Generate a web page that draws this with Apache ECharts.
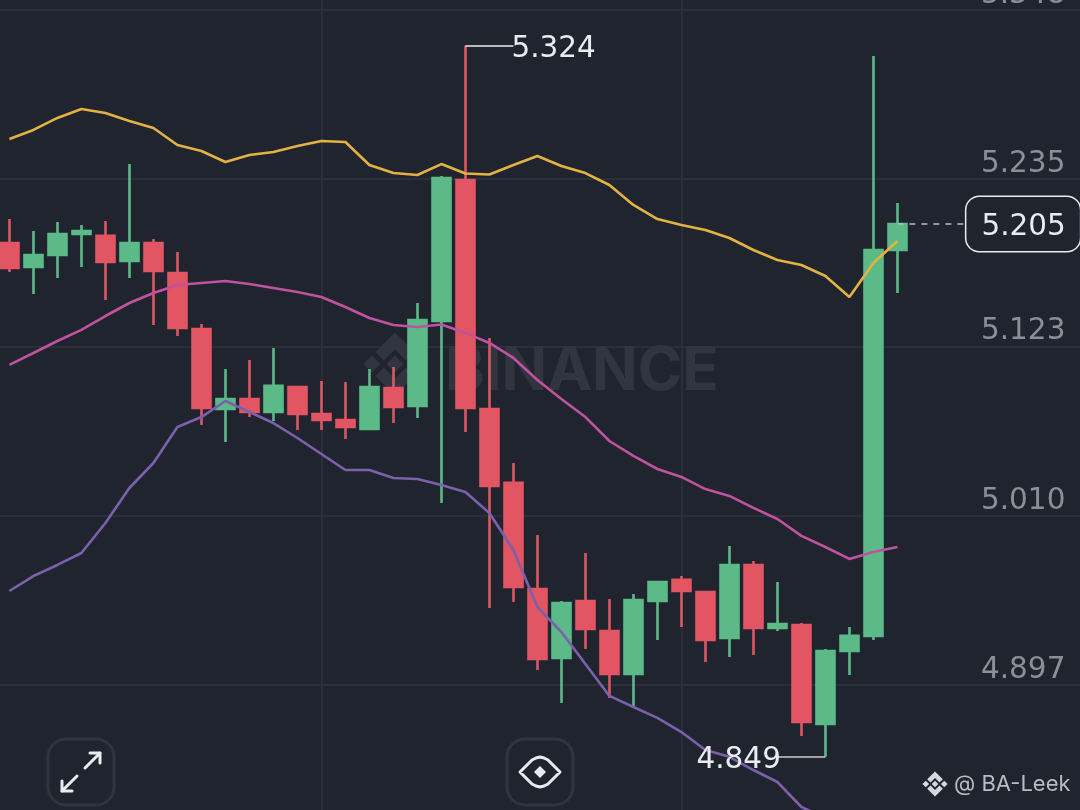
<!DOCTYPE html>
<html>
<head>
<meta charset="utf-8">
<style>html,body{margin:0;padding:0;background:#20242e}#c{width:1080px;height:810px}</style>
<script src="https://cdn.jsdelivr.net/npm/echarts@6/dist/echarts.min.js"></script>
</head>
<body>
<div id="c"></div>
<script>
const opens  = [5.1923,5.1762,5.1843,5.1983,5.1970,5.1803,5.1923,5.1722,5.1348,5.0814,5.0881,5.0794,5.0961,5.0780,5.0740,5.0680,5.0954,5.0834,5.1402,5.2344,5.0814,5.0320,4.9611,4.9151,4.9531,4.9331,4.9044,4.9531,4.9672,4.9591,4.9284,4.9772,4.9351,4.9371,4.8710,4.9197,4.9298,5.1876];
const closes = [5.1756,5.1843,5.1983,5.2003,5.1796,5.1923,5.1736,5.1355,5.0821,5.0881,5.0794,5.0968,5.0780,5.0740,5.0694,5.0961,5.0827,5.1408,5.2357,5.0821,5.0300,4.9625,4.9144,4.9518,4.9344,4.9044,4.9538,4.9658,4.9598,4.9271,4.9772,4.9351,4.9378,4.8723,4.9197,4.9298,5.1876,5.2050];
const lows   = [5.1729,5.1582,5.1689,5.1762,5.1542,5.1689,5.1375,5.1302,5.0707,5.0593,5.0760,5.0734,5.0674,5.0674,5.0613,5.0680,5.0720,5.0754,5.0186,5.0660,4.9485,4.9525,4.9070,4.8850,4.9211,4.8883,4.8830,4.9271,4.9358,4.9124,4.9157,4.9171,4.9331,4.8630,4.8490,4.9037,4.9271,5.1589];
const highs  = [5.2083,5.2003,5.2063,5.2043,5.2070,5.2450,5.1949,5.1863,5.1382,5.1081,5.1141,5.1221,5.0968,5.1001,5.0994,5.1081,5.1094,5.1522,5.2370,5.3240,5.1288,5.0453,4.9972,4.9531,4.9852,4.9545,4.9578,4.9658,4.9698,4.9591,4.9899,4.9799,4.9658,4.9384,4.9211,4.9358,5.3172,5.2190];
const bandUpper = [5.2617,5.2678,5.2758,5.2818,5.2791,5.2738,5.2691,5.2577,5.2537,5.2464,5.2511,5.2531,5.2571,5.2604,5.2597,5.2444,5.2390,5.2377,5.2450,5.2387,5.2380,5.2444,5.2504,5.2437,5.2390,5.2310,5.2177,5.2083,5.2043,5.2010,5.1956,5.1876,5.1809,5.1776,5.1702,5.1562,5.1789,5.1936];
const bandMid   = [5.1108,5.1188,5.1268,5.1342,5.1435,5.1522,5.1589,5.1642,5.1656,5.1669,5.1649,5.1622,5.1595,5.1562,5.1495,5.1422,5.1375,5.1362,5.1378,5.1322,5.1255,5.1155,5.1008,5.0881,5.0760,5.0600,5.0500,5.0413,5.0360,5.0279,5.0233,5.0153,5.0079,4.9966,4.9892,4.9812,4.9859,4.9892];
const bandLower = [4.9598,4.9698,4.9772,4.9852,5.0052,5.0286,5.0453,5.0694,5.0760,5.0867,5.0794,5.0720,5.0620,5.0513,5.0406,5.0406,5.0353,5.0346,5.0306,5.0259,5.0119,4.9872,4.9491,4.9324,4.9110,4.8897,4.8823,4.8750,4.8656,4.8536,4.8490,4.8402,4.8322,4.8155,4.8082,4.8062,4.7928,4.7848];
const priceTicks = [4.897,5.010,5.123,5.235,5.348];
const verticalGridAt = [13,28];
const highValue = 5.324, lowValue = 4.849, lastPrice = 5.205;
const highIndex = 19, lowIndex = 34, lastIndex = 37;
const categories = Array.from({length:46},(_,i)=>String(i));

const BG='#20242e', GRID='#2f333e', GREEN='#5cba89', RED='#e25563', TXT='#eaecef';
const LOGO_PARTS=[
  [[50,5],[78,33],[66,45],[50,29],[34,45],[22,33]],
  [[50,95],[78,67],[66,55],[50,71],[34,55],[22,67]],
  [[5,50],[17,38],[29,50],[17,62]],
  [[95,50],[83,38],[71,50],[83,62]],
  [[50,38],[62,50],[50,62],[38,50]]
];
const logo=(x,y,s,fill,z)=>LOGO_PARTS.map(p=>({type:'polygon',z,silent:true,x,y,scaleX:s,scaleY:s,shape:{points:p},style:{fill}}));
const chromeStroke={stroke:TXT,fill:'none',lineWidth:3,lineCap:'round',lineJoin:'round'};
const FONT='Inter', NUMFONT='DejaVu Sans', NUMSIZE=29.5;

const chart=echarts.init(document.getElementById('c'),null,{renderer:'canvas'});
const lineSeries=(name,data,color)=>({name,type:'line',data,symbol:'none',smooth:false,z:5,
  lineStyle:{color,width:2.6},silent:true,animation:false});
chart.setOption({
  animation:false,
  backgroundColor:BG,
  grid:{left:-2.6,top:0,width:1104,height:810,containLabel:false,outerBoundsMode:'none'},
  xAxis:{type:'category',data:categories,boundaryGap:true,
    axisLine:{show:false},axisTick:{show:false},axisLabel:{show:false},
    splitLine:{show:true,alignWithLabel:true,interval:(i)=>verticalGridAt.includes(i),lineStyle:{color:GRID,width:1.5}}},
  yAxis:{type:'value',position:'right',min:4.8135,max:5.3546,scale:true,
    axisLine:{show:false},axisTick:{show:false,customValues:priceTicks},
    splitLine:{show:true,lineStyle:{color:GRID,width:1.5}},
    axisLabel:{inside:true,margin:36,customValues:priceTicks,showMinLabel:true,showMaxLabel:true,
      formatter:(v)=>v.toFixed(3),color:'#8b8f97',fontFamily:NUMFONT,fontSize:NUMSIZE,verticalAlign:'bottom',lineHeight:30,align:'right'}},
  series:[
    {type:'candlestick',data:opens.map((o,i)=>[o,closes[i],lows[i],highs[i]]),barWidth:18.5,z:2,
      itemStyle:{color:GREEN,color0:RED,borderColor:GREEN,borderColor0:RED,borderWidth:2.6},
      markLine:{silent:true,symbol:'none',z:10,animation:false,data:[
        [{coord:[highIndex,highValue],lineStyle:{color:TXT,width:1.5,type:'solid'},
          label:{show:true,position:'end',formatter:highValue.toFixed(3),color:TXT,fontFamily:NUMFONT,fontSize:NUMSIZE,distance:1,offset:[-3,3.5]}},
         {coord:[highIndex+2,highValue]}],
        [{coord:[lowIndex,lowValue],lineStyle:{color:'#c9ccd1',width:1.5,type:'solid'},
          label:{show:true,position:'end',formatter:lowValue.toFixed(3),color:TXT,fontFamily:NUMFONT,fontSize:NUMSIZE,distance:1,offset:[4.5,3]}},
         {coord:[lowIndex-2,lowValue]}],
        [{coord:[lastIndex,lastPrice],lineStyle:{color:'#b7bbc2',width:1.5,type:[6,6]},
          label:{show:true,position:'end',formatter:'{p|'+lastPrice.toFixed(3)+'}',distance:1,offset:[-4,0],
            rich:{p:{color:TXT,fontFamily:NUMFONT,fontSize:NUMSIZE,padding:[5,0,0,0]}},
            backgroundColor:BG,borderColor:TXT,borderWidth:1.5,borderRadius:13,padding:[10,14,9,15]}},
         {coord:[lastIndex+3,lastPrice]}]
      ]}},
    lineSeries('upper',bandUpper,'#e3b341'),
    lineSeries('middle',bandMid,'#c0529f'),
    lineSeries('lower',bandLower,'#7b60ab')
  ],
  graphic:[
    {type:'text',z:1,silent:true,style:{x:445,y:372,text:'BINANCE',fill:'#31353f',fontFamily:FONT,fontWeight:700,fontSize:60,textVerticalAlign:'middle'}},
    ...logo(360,329,.7,'#31353f',1),
    {type:'rect',z:20,silent:true,shape:{x:48,y:739,width:66,height:66,r:18},style:{fill:'none',stroke:'#30343f',lineWidth:3}},
    {type:'rect',z:20,silent:true,shape:{x:507,y:739,width:66,height:66,r:18},style:{fill:'none',stroke:'#30343f',lineWidth:3}},
    {type:'polyline',z:20,silent:true,shape:{points:[[85,768],[100,753]]},style:chromeStroke},
    {type:'polyline',z:20,silent:true,shape:{points:[[90,753],[100,753],[100,763]]},style:chromeStroke},
    {type:'polyline',z:20,silent:true,shape:{points:[[77,776],[62,791]]},style:chromeStroke},
    {type:'polyline',z:20,silent:true,shape:{points:[[62,781],[62,791],[72,791]]},style:chromeStroke},
    {type:'polygon',z:20,silent:true,shape:{points:[[520,772],[532,760],[536,758],[540,757],[544,758],[548,760],[560,772],[548,784],[544,786],[540,787],[536,786],[532,784]]},style:{fill:'none',stroke:TXT,lineWidth:3,lineJoin:'round'}},
    {type:'polygon',z:20,silent:true,shape:{points:[[540,766],[546,772],[540,778],[534,772]]},style:{fill:TXT}},
    ...logo(921,770,.28,'#d5d8dc',20),
    {type:'text',z:20,silent:true,style:{x:954,y:784,text:'@ BA-Leek',fill:'#b7bbc2',fontFamily:FONT,fontSize:22,textVerticalAlign:'middle'}}
  ]
});
</script>
</body>
</html>
